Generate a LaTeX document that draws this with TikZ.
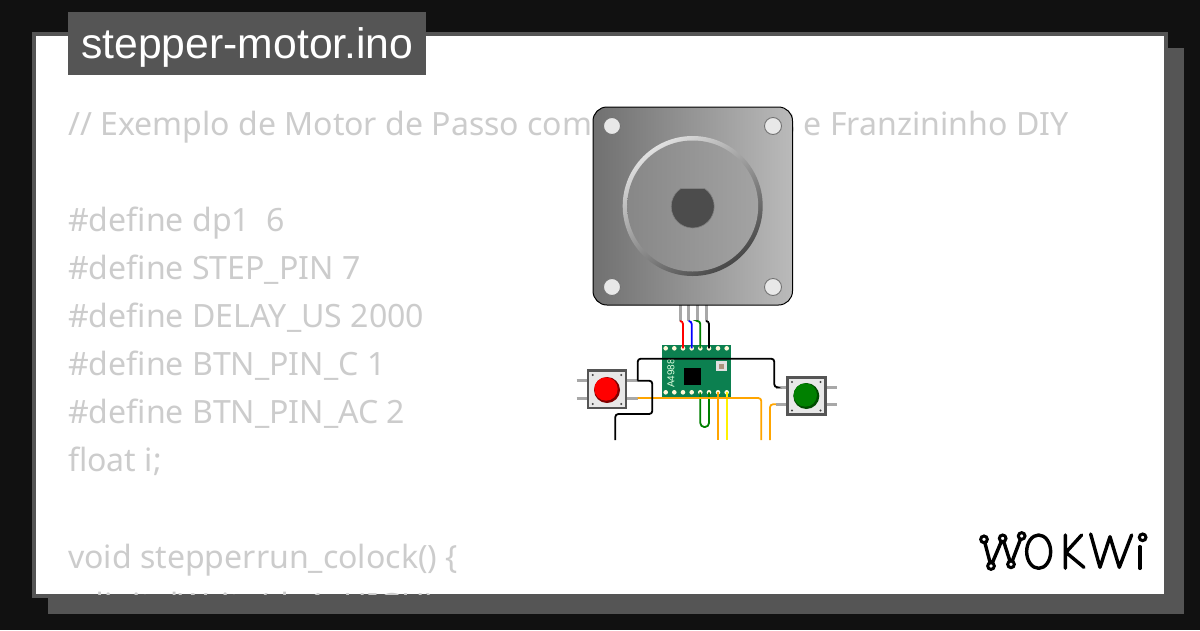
\documentclass[tikz,border=0pt]{standalone}
\usepackage{fontspec}
\setmainfont{Noto Sans}
\newfontfamily\titlefont{Liberation Sans}
\definecolor{pagebg}{HTML}{111111}
\definecolor{panelgray}{HTML}{555555}
\definecolor{codegray}{HTML}{CCCCCC}
\definecolor{boardgreen}{HTML}{0C8050}
\definecolor{pinivory}{HTML}{FFF8D8}
\definecolor{pingray}{HTML}{A8A8A8}
\definecolor{wireorange}{HTML}{FFA500}
\definecolor{wiregreen}{HTML}{008000}
\tikzset{
  codeline/.style={anchor=base west,inner sep=0pt,text=codegray,font=\fontsize{32.07}{32}\selectfont},
  wire/.style={line width=1.8pt,rounded corners=3pt},
  termpin/.style={line width=3pt,draw=pingray},
  padhole/.style={circle,fill=pinivory,inner sep=0pt,minimum size=4.6pt},
  btnbody/.style={draw=panelgray,line width=2.6pt,fill=black!9},
  cornerdot/.style={fill=black!75},
  mounthole/.style={circle,draw=black!55,line width=0.9pt,fill=black!9,inner sep=0pt,minimum size=17pt},
  logostroke/.style={line width=3.4pt,line cap=round,line join=round,draw=black},
  logoknob/.style={line width=3pt,draw=black,fill=white}
}
\begin{document}
\begin{tikzpicture}[x=1pt,y=-1pt]
\useasboundingbox (0,0) rectangle (1200,630);
\fill[pagebg] (0,0) rectangle (1200,630);
\fill[panelgray] (48,48) rectangle (1184,614);
\fill[panelgray] (32,32) rectangle (1168,598);
\fill[white] (36,36) rectangle (1164,594);
% code text, clipped by the panel
\begin{scope}
\clip (36,36) rectangle (1164,594);
\node[codeline] (c1) at (68,135) {// Exemplo de Motor de Passo com Driver A4988 e Franzininho DIY};
\node[codeline] (c2) at (68,231) {\#define dp1\ \ 6};
\node[codeline] (c3) at (68,279) {\#define STEP\_PIN 7};
\node[codeline] (c4) at (68,327) {\#define DELAY\_US 2000};
\node[codeline] (c5) at (68,375) {\#define BTN\_PIN\_C 1};
\node[codeline] (c6) at (68,423.3) {\#define BTN\_PIN\_AC 2};
\node[codeline] (c7) at (68,471.7) {float i;};
\node[codeline] (c8) at (68,568) {void stepperrun\_colock() \{};
\node[codeline] (c9) at (68,616) {\ \ digitalWrite(dp1, HIGH);};
\end{scope}
% title
\fill[panelgray] (68,12) rectangle (426,75);
\node[anchor=base west,inner sep=0pt,text=white,font=\titlefont\fontsize{42.7}{42.7}\selectfont] (title) at (81,58) {stepper-motor.ino};
% motor pins
\coordinate (mp1) at (680,321);
\coordinate (mp2) at (688.5,321);
\coordinate (mp3) at (697.5,321);
\coordinate (mp4) at (706,321);
\foreach \p/\x in {mp1/680,mp2/688.5,mp3/697.5,mp4/706}{\draw[termpin] (\x,304) -- (\p);}
% motor
\draw[black,line width=1pt,rounded corners=14pt,left color=black!56,right color=black!27] (593,107) rectangle (792.5,305);
\node[mounthole] (h1) at (612,126) {};
\node[mounthole] (h2) at (773,126) {};
\node[mounthole] (h3) at (612,287) {};
\node[mounthole] (h4) at (773,287) {};
\shade[left color=black!12,right color=black!72,shading angle=35] (692.7,206) circle (70);
\shade[left color=black!47,right color=black!36] (692.7,206) circle (65.5);
\begin{scope}
\clip (660,188.5) rectangle (725,235);
\fill[black!70,draw=black!50,line width=0.6pt] (692.7,206.5) circle (21.5);
\end{scope}
\draw[black!50,line width=0.6pt] (680,188.5) -- (705,188.5);
% driver board
\fill[boardgreen] (661.7,345) rectangle (731,396.7);
\fill[black] (683.7,368) rectangle (701,385.3);
\fill[black!12] (715.7,360.7) rectangle (726.7,371.3);
\fill[black!40!brown!60] (719,364) rectangle (723.5,368.5);
\node[rotate=90,inner sep=0pt,text=white!88!green,font=\titlefont\fontsize{10}{10}\selectfont] (drv) at (671,373.5) {A4988};
\foreach \n/\x in {1/665.7,2/674.3,3/683,4/691.7,5/700.3,6/709,7/718,8/726.7}{
  \node[padhole] (t\n) at (\x,348.3) {};
  \node[padhole] (b\n) at (\x,392.3) {};
}
% red button
\draw[termpin] (576.7,380.7) -- (586.7,380.7) (576.7,398) -- (586.7,398);
\coordinate (ra) at (637.7,380.7);
\coordinate (rb) at (637.7,398);
\draw[termpin] (627.3,380.7) -- (ra) (627.3,398) -- (rb);
\draw[btnbody] (588,370.6) rectangle (626,408);
\foreach \a/\b in {592.7/375,621.3/375,592.7/404,621.3/404}{\fill[cornerdot] (\a,\b) circle (1.1);}
\fill[black!50!red] (607,390) circle (13);
\fill[red] (606,389) circle (11.7);
% green button
\coordinate (ga) at (776,387.3);
\coordinate (gb) at (776,404.3);
\draw[termpin] (ga) -- (786,387.3) (gb) -- (786,404.3);
\draw[termpin] (826.7,387.3) -- (836.7,387.3) (826.7,404.3) -- (836.7,404.3);
\draw[btnbody] (787.3,377.3) rectangle (825.4,414.7);
\foreach \a/\b in {792/382,820.5/382,792/410.5,820.5/410.5}{\fill[cornerdot] (\a,\b) circle (1.1);}
\fill[black!70!green] (806.3,396) circle (13);
\fill[wiregreen] (805.3,395) circle (11.7);
% free wire ends
\coordinate (e1) at (615.3,440);
\coordinate (e2) at (761.3,440);
\coordinate (e3) at (770,440);
\coordinate (e4) at (718,440);
\coordinate (e5) at (726.7,440);
% wires
\draw[wire,red] (mp1) -- ++(3,0) -- (t3.center);
\draw[wire,blue] (mp2) -- ++(3.2,0) -- (t4.center);
\draw[wire,wiregreen] (mp3) -- ++(2.8,0) -- (t5.center);
\draw[wire,black] (mp4) -- ++(3,0) -- (t6.center);
\draw[wire,wiregreen,rounded corners=4pt] (b5.center) -- (700.3,427) -- (709,427) -- (b6.center);
\draw[wire,wireorange] (b7.center) -- (e4);
\draw[wire,yellow] (b8.center) -- (e5);
\draw[wire,wireorange] (rb) -- (761.3,398) -- (e2);
\draw[wire,wireorange] (gb) -- (770,404.3) -- (e3);
\draw[wire,black] (ra) -- (637.7,358.7) -- (774.3,358.7) -- (774.3,387.3) -- (ga);
\draw[wire,black] (ra) -- (652.3,380.7) -- (652.3,414) -- (615.3,414) -- (e1);
% Wokwi logo
\begin{scope}[shift={(960,510)},x=0.3333pt,y=-0.3333pt]
\draw[logostroke] (72,88) -- (93,168) -- (128,85) -- (153,163) -- (185,78);
\draw[logostroke] (236,125) ellipse [x radius=36,y radius=50];
\draw[logostroke] (316,75) -- (316,175) (365,75) -- (318,127) -- (372,172);
\draw[logostroke] (392,72) -- (420,172) -- (450,80) -- (478,172) -- (515,75);
\draw[logostroke] (540,110) -- (540,175);
\foreach \a/\b in {72/88,128/85,185/78,93/168,153/163,548/82}{\draw[logoknob] (\a,\b) circle (10);}
\end{scope}
\end{tikzpicture}
\end{document}
